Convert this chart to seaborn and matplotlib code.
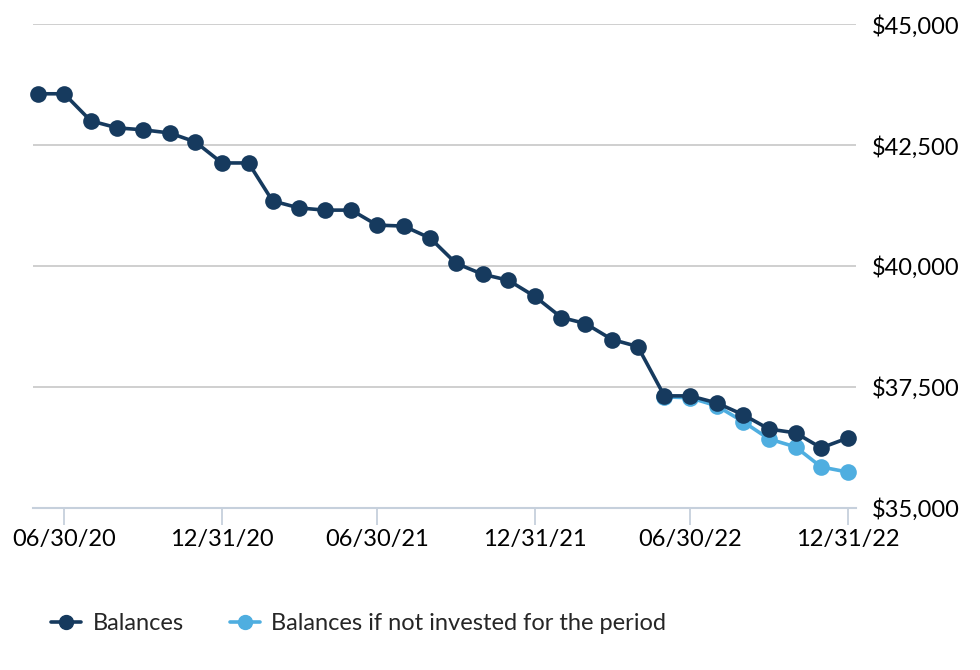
import pandas as pd
import numpy as np
import matplotlib.pyplot as plt
from matplotlib.lines import Line2D
from matplotlib.ticker import FuncFormatter
import seaborn as sns

# Month-end dates, 05/31/20 .. 12/31/22
dates = pd.date_range("2020-05-31", "2022-12-31", freq="ME")

balances = [
    43560, 43560, 43000, 42855, 42815, 42750, 42565, 42130,
    42130, 41345, 41200, 41155, 41155, 40845, 40825, 40575,
    40055, 39830, 39705, 39370, 38935, 38810, 38480, 38335,
    37315, 37315, 37170, 36925, 36630, 36550, 36240, 36445,
]
# Only available for the last eight months
not_invested = [37295, 37275, 37110, 36780, 36425, 36260, 35845, 35740]

tick_dates = pd.to_datetime(["2020-06-30", "2020-12-31", "2021-06-30",
                             "2021-12-31", "2022-06-30", "2022-12-31"])
tick_labels = ["06/30/20", "12/31/20", "06/30/21", "12/31/21", "06/30/22", "12/31/22"]
y_ticks = [35000, 37500, 40000, 42500, 45000]

DARK = "#163a5e"
LIGHT = "#4faee0"
FS = 17

sns.set_theme(style="white")
plt.rcParams["font.family"] = ["Lato", "DejaVu Sans"]

df_dark = pd.DataFrame({"date": dates, "value": balances})
df_light = pd.DataFrame({"date": dates[-len(not_invested):], "value": not_invested})

fig = plt.figure(figsize=(9.8, 6.7), dpi=100)
ax = fig.add_axes([0.034, 0.242, 0.839, 0.722])

# light series first so the dark one sits on top
sns.lineplot(data=df_light, x="date", y="value", ax=ax, color=LIGHT,
             linewidth=2.6, marker="o", markersize=12, markeredgewidth=0,
             clip_on=False)
sns.lineplot(data=df_dark, x="date", y="value", ax=ax, color=DARK,
             linewidth=2.6, marker="o", markersize=12, markeredgewidth=0,
             clip_on=False)

ax.set_ylim(35000, 45000)
ax.set_xlim(pd.Timestamp("2020-05-25"), pd.Timestamp("2023-01-09"))

ax.set_yticks(y_ticks)
ax.yaxis.set_major_formatter(FuncFormatter(lambda v, p: f"${v:,.0f}"))
ax.yaxis.tick_right()
ax.grid(axis="y", color="#cccccc", linewidth=1.3)
ax.set_axisbelow(True)

ax.set_xticks(tick_dates)
ax.set_xticklabels(tick_labels)
ax.tick_params(axis="x", bottom=True, length=12, width=1.3, color="#c6d0dc",
               labelsize=FS, pad=3, labelcolor="black")
ax.tick_params(axis="y", length=0, labelsize=FS, pad=12, labelcolor="black")

for s in ["top", "left", "right"]:
    ax.spines[s].set_visible(False)
ax.spines["bottom"].set_color("#c6d0dc")
ax.spines["bottom"].set_linewidth(1.5)

ax.set_xlabel("")
ax.set_ylabel("")

handles = [
    Line2D([], [], color=DARK, linewidth=2.6, marker="o", markersize=10),
    Line2D([], [], color=LIGHT, linewidth=2.6, marker="o", markersize=10),
]
fig.legend(handles, ["Balances", "Balances if not invested for the period"],
           loc="center left", bbox_to_anchor=(0.03, 0.069), ncol=2,
           frameon=False, fontsize=FS, handlelength=1.3, handletextpad=0.47,
           columnspacing=1.95)

fig.savefig("out.png", dpi=100)
